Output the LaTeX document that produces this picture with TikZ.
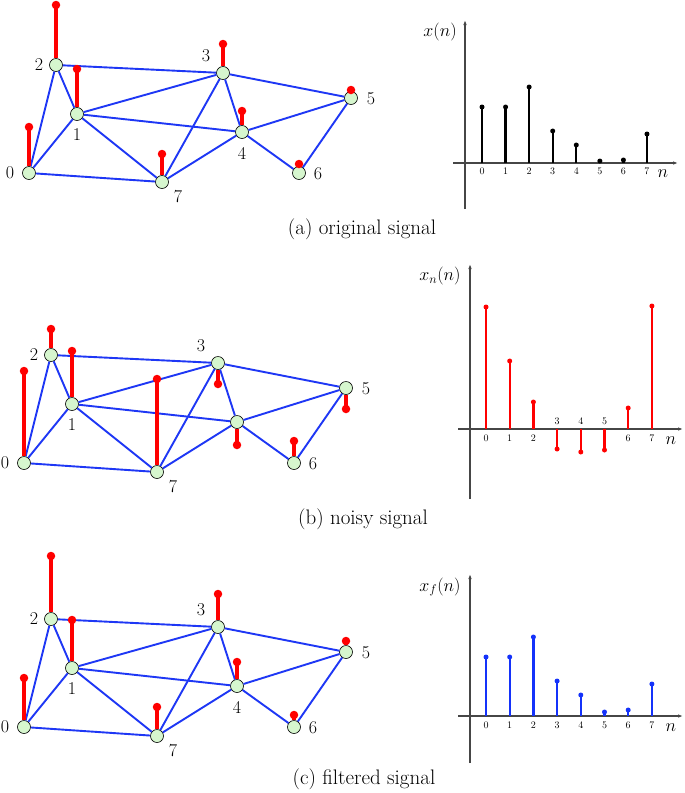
\RequirePackage{fix-cm}
\documentclass[tikz,border=0pt]{standalone}
\usetikzlibrary{arrows.meta}
\definecolor{nodegreen}{RGB}{214,246,206}
\definecolor{gblue}{RGB}{30,55,245}
\definecolor{pblue}{RGB}{20,50,250}
\definecolor{axisgray}{RGB}{70,70,70}
\tikzset{
 gnode/.style={circle,draw=black,line width=0.6pt,fill=nodegreen,minimum size=13pt,inner sep=0pt},
 gedge/.style={draw=gblue,line width=1.9pt},
 rdot/.style={circle,fill=red,minimum size=8.5pt,inner sep=0pt},
 rstem/.style={draw=red,line width=4pt},
 glabel/.style={font=\fontsize{18}{22}\selectfont,inner sep=0pt},
 axisline/.style={draw=axisgray,line width=1.2pt,-{Latex[length=5pt,width=3.5pt]}},
 pdot/.style={circle,minimum size=5pt,inner sep=0pt},
 pstem/.style={line width=2.2pt},
 ticklab/.style={font=\fontsize{10}{12}\selectfont,inner sep=0pt},
 caplab/.style={font=\fontsize{21}{25}\selectfont,inner sep=0pt},
}
\begin{document}
\begin{tikzpicture}[x=1pt,y=-1pt]
\useasboundingbox[fill=white] (0,0) rectangle (685,793);

% ---------- graphs ----------
\foreach \p/\lst in {
 a/{0/29/173/46,1/77/114/45,2/56/65/60,3/223/73/29,4/242/132/21,5/351/98/8,6/299/173/9,7/162/182/28},
 b/{0/24/463/92,1/72/404/53,2/51/355/26,3/218/363/-21,4/237/422/-23,5/346/388/-21,6/294/463/22,7/157/472/93},
 c/{0/24/727/49,1/72/668/48,2/51/619/63,3/218/627/33,4/237/686/24,5/346/652/11,6/294/727/12,7/157/736/29}}{
 \foreach \i/\x/\y/\h in \lst {
  \node[gnode] (\p\i) at (\x,\y) {};
 }
 \foreach \u/\v in {2/3,2/1,2/0,1/3,1/4,1/0,1/7,3/5,3/4,3/7,4/5,4/7,4/6,5/6,0/7}{
  \draw[gedge] (\p\u) -- (\p\v);
 }
 \foreach \i/\x/\y/\h in \lst {
  \node[rdot] (d\p\i) at (\x,{\y-\h}) {};
  \draw[rstem] (\p\i) -- (d\p\i.center);
 }
}
% node labels
\foreach \p in {a,b,c}{
 \foreach \i/\dx/\dy in {0/-19/0,1/0/21,2/-17/0,3/-17/-17,5/20/1,6/19/1,7/16/15}{
  \node[glabel] (l\p\i) at ([shift={(\dx,\dy)}]\p\i.center) {\i};
 }
}
\node[glabel] (la4) at ([shift={(0,21)}]a4.center) {4};
\node[glabel] (lc4) at ([shift={(0,21)}]c4.center) {4};

% ---------- plot (a) ----------
\coordinate (aya) at (465,209); \coordinate (ayb) at (465,20);
\coordinate (axa) at (453,163); \coordinate (axb) at (678,163);
\draw[axisline] (aya) -- (ayb);
\draw[axisline] (axa) -- (axb);
\foreach \i/\h in {0/56,1/56,2/76,3/32,4/18,5/2,6/3,7/29}{
 \coordinate (pab\i) at ({482+23.57*\i},163);
 \node[pdot,fill=black] (pas\i) at ({482+23.57*\i},{163-\h}) {};
 \draw[pstem,black] (pab\i) -- (pas\i.center);
 \node[ticklab] (pak\i) at ({482+23.57*\i},171) {\i};
}
\node[glabel] (pan) at (663,174) {$n$};
\node[glabel] (pat) at (440,32) {$x(n)$};
\node[caplab] (capa) at (362,229) {(a) original signal};

% ---------- plot (b) ----------
\coordinate (bya) at (470,499); \coordinate (byb) at (470,264);
\coordinate (bxa) at (458,429); \coordinate (bxb) at (683,429);
\draw[axisline] (bya) -- (byb);
\draw[axisline] (bxa) -- (bxb);
\foreach \i/\h/\ty in {0/122/438,1/68/438,2/27/438,3/-20/421,4/-23/421,5/-21/421,6/21/438,7/123/438}{
 \coordinate (pbb\i) at ({486+23.7*\i},429);
 \node[pdot,fill=red] (pbs\i) at ({486+23.7*\i},{429-\h}) {};
 \draw[pstem,red] (pbb\i) -- (pbs\i.center);
 \node[ticklab] (pbk\i) at ({486+23.7*\i},\ty) {\i};
}
\node[glabel] (pbn) at (671,441) {$n$};
\node[glabel] (pbt) at (440,276) {$x_n(n)$};
\node[caplab] (capb) at (363,519) {(b) noisy signal};

% ---------- plot (c) ----------
\coordinate (cya) at (470,763); \coordinate (cyb) at (470,574);
\coordinate (cxa) at (458,716); \coordinate (cxb) at (683,716);
\draw[axisline] (cya) -- (cyb);
\draw[axisline] (cxa) -- (cxb);
\foreach \i/\h in {0/59,1/59,2/79,3/35,4/21,5/4,6/6,7/32}{
 \coordinate (pcb\i) at ({486+23.7*\i},716);
 \node[pdot,fill=pblue] (pcs\i) at ({486+23.7*\i},{716-\h}) {};
 \draw[pstem,pblue] (pcb\i) -- (pcs\i.center);
 \node[ticklab] (pck\i) at ({486+23.7*\i},725) {\i};
}
\node[glabel] (pcn) at (671,728) {$n$};
\node[glabel] (pct) at (440,587) {$x_f(n)$};
\node[caplab] (capc) at (364,779) {(c) filtered signal};
\end{tikzpicture}
\end{document}
